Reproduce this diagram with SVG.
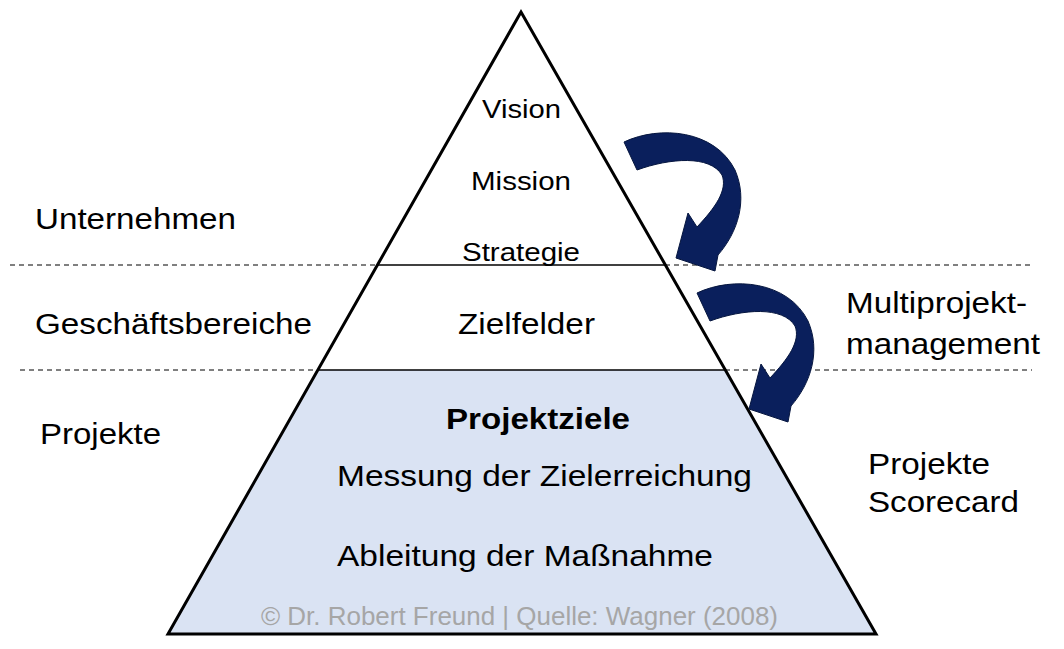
<svg xmlns="http://www.w3.org/2000/svg" width="1064" height="649" viewBox="0 0 1064 649">
<style>
text{font-family:"Liberation Sans",Arial,sans-serif;fill:#000}
.l{font-size:29px}.c{text-anchor:middle}
.d{stroke:#000;stroke-width:1;stroke-dasharray:5,4}
.arr{fill:#0a1f5c;stroke:#06163f;stroke-width:1}
</style>
<rect width="1064" height="649" fill="#fff"/>
<g id="pyramid">
<polygon points="318,370 725,370 876,634 168,634" fill="#dae3f3"/>
<polygon points="521,12 876,634 168,634" fill="none" stroke="#000" stroke-width="3"/>
<line x1="377" y1="265" x2="665" y2="265" stroke="#000" stroke-width="1.3"/>
<line x1="318" y1="370" x2="725" y2="370" stroke="#000" stroke-width="1.3"/>
</g>
<g id="dividers">
<line class="d" x1="10" y1="265" x2="377" y2="265"/>
<line class="d" x1="665" y1="265" x2="1032" y2="265"/>
<line class="d" x1="20" y1="370" x2="318" y2="370"/>
<line class="d" x1="725" y1="370" x2="1032" y2="370"/>
</g>
<g id="connectors">
<path id="arrow1" class="arr" d="M624,142 C660,125 715,130 735,170 C748,200 738,232 718,255 L715,271 L676,258 L688,213 L697,227 C715,208 728,190 722,175 C710,155 670,158 637,170 Z"/>
<path id="arrow2" class="arr" transform="translate(73,151)" d="M624,142 C660,125 715,130 735,170 C748,200 738,232 718,255 L715,271 L676,258 L688,213 L697,227 C715,208 728,190 722,175 C710,155 670,158 637,170 Z"/>
</g>
<g id="top-level">
<text x="482" y="118" font-size="26" textLength="79" lengthAdjust="spacingAndGlyphs">Vision</text>
<text x="471" y="190" font-size="26" textLength="100" lengthAdjust="spacingAndGlyphs">Mission</text>
<text x="462" y="261" font-size="26" textLength="118" lengthAdjust="spacingAndGlyphs">Strategie</text>
</g>
<g id="mid-level"><text x="458" y="334" class="l" textLength="137" lengthAdjust="spacingAndGlyphs">Zielfelder</text></g>
<g id="bottom-level">
<text x="446" y="429" class="l" font-weight="bold" textLength="184" lengthAdjust="spacingAndGlyphs">Projektziele</text>
<text x="337" y="486" class="l" textLength="415" lengthAdjust="spacingAndGlyphs">Messung der Zielerreichung</text>
<text x="337" y="566" class="l" textLength="376" lengthAdjust="spacingAndGlyphs">Ableitung der Maßnahme</text>
<text x="261" y="625" font-size="26" style="fill:#a6a6a6" textLength="517" lengthAdjust="spacingAndGlyphs">© Dr. Robert Freund | Quelle: Wagner (2008)</text>
</g>
<g id="left-labels">
<text x="35" y="229" class="l" textLength="201" lengthAdjust="spacingAndGlyphs">Unternehmen</text>
<text x="35" y="334" class="l" textLength="277" lengthAdjust="spacingAndGlyphs">Geschäftsbereiche</text>
<text x="40" y="444" class="l" textLength="121" lengthAdjust="spacingAndGlyphs">Projekte</text>
</g>
<g id="right-labels">
<text x="846" y="313" class="l" textLength="181" lengthAdjust="spacingAndGlyphs">Multiprojekt-</text>
<text x="846" y="354" class="l" textLength="194" lengthAdjust="spacingAndGlyphs">management</text>
<text x="868" y="474" class="l" textLength="122" lengthAdjust="spacingAndGlyphs">Projekte</text>
<text x="868" y="512" class="l" textLength="151" lengthAdjust="spacingAndGlyphs">Scorecard</text>
</g>
</svg>
